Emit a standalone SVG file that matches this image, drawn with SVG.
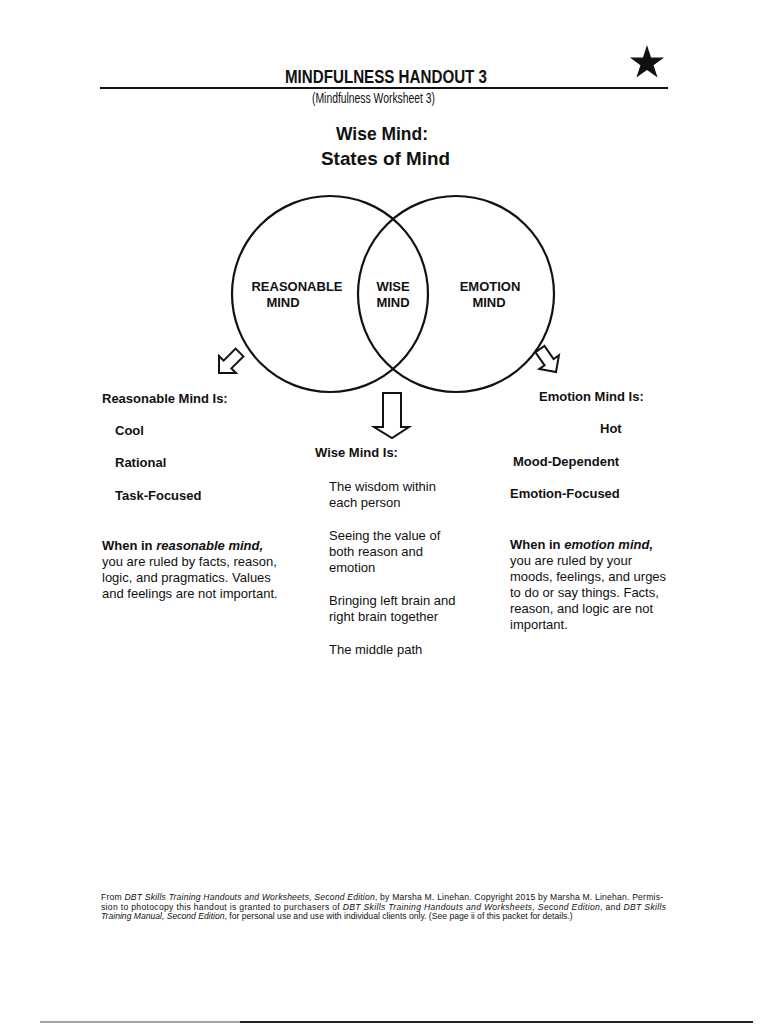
<svg xmlns="http://www.w3.org/2000/svg" width="768" height="1024" viewBox="0 0 768 1024">
<style>
text{font-family:"Liberation Sans",Arial,Helvetica,sans-serif;fill:#111}
.b{font-weight:bold}
.h{font-family:"Liberation Sans Narrow","Liberation Sans",Arial,sans-serif;font-weight:bold}
.t{font-size:19px;font-weight:bold}
.lbl{font-size:13px;font-weight:bold;text-anchor:middle}
.m{font-size:13px}
.f{font-size:8.6px}
.i{font-style:italic}
.circ{fill:none;stroke:#111;stroke-width:2.2}
.arrow{fill:#fff;stroke:#111;stroke-width:2;stroke-linejoin:miter}
</style>
<rect width="768" height="1024" fill="#fff"/>

<g id="header">
<text class="h" x="285" y="83" font-size="18" textLength="202" lengthAdjust="spacingAndGlyphs">MINDFULNESS HANDOUT 3</text>
<line x1="100" y1="88" x2="668" y2="88" stroke="#111" stroke-width="2"/>
<polygon points="647,45 651.06,57.42 664.12,57.44 653.56,65.13 657.58,77.56 647,69.9 636.42,77.56 640.44,65.13 629.88,57.44 642.94,57.42" fill="#111"/>
<text x="312" y="103" font-size="14" style="font-family:'Liberation Sans Narrow','Liberation Sans',Arial,sans-serif" textLength="123" lengthAdjust="spacingAndGlyphs">(Mindfulness Worksheet 3)</text>
<text class="t" x="336" y="140" textLength="92" lengthAdjust="spacingAndGlyphs">Wise Mind:</text>
<text class="t" x="321" y="165" textLength="129" lengthAdjust="spacingAndGlyphs">States of Mind</text>
</g>

<g id="reasonable-mind">
<circle class="circ" cx="330" cy="294" r="98"/>
<text class="lbl" x="297" y="291">REASONABLE</text>
<text class="lbl" x="283" y="307">MIND</text>
</g>

<g id="emotion-mind">
<circle class="circ" cx="456" cy="294" r="98"/>
<text class="lbl" x="490" y="291">EMOTION</text>
<text class="lbl" x="489" y="307">MIND</text>
</g>

<g id="wise-mind">
<text class="lbl" x="393" y="291">WISE</text>
<text class="lbl" x="393" y="307">MIND</text>
</g>

<g id="connectors">
<path class="arrow" transform="translate(219,373) rotate(45)" d="M-5.5,-29 L5.5,-29 L5.5,-12 L12,-12 L0,0 L-12,-12 L-5.5,-12 Z"/>
<path class="arrow" d="M383,393 L401,393 L401,427 L409,427 L392,438 L374,427 L383,427 Z"/>
<path class="arrow" transform="translate(556,372) rotate(-35)" d="M-5.5,-28 L5.5,-28 L5.5,-12 L12,-12 L0,0 L-12,-12 L-5.5,-12 Z"/>
</g>

<g id="reasonable-text">
<text class="m b" x="102" y="403">Reasonable Mind Is:</text>
<text class="m b" x="115" y="435">Cool</text>
<text class="m b" x="115" y="467">Rational</text>
<text class="m b" x="115" y="500">Task-Focused</text>
<text class="m b" x="102" y="550">When in <tspan class="i">reasonable mind,</tspan></text>
<text class="m" x="102" y="566">you are ruled by facts, reason,</text>
<text class="m" x="102" y="582">logic, and pragmatics. Values</text>
<text class="m" x="102" y="598">and feelings are not important.</text>
</g>

<g id="wise-text">
<text class="m b" x="315" y="457">Wise Mind Is:</text>
<text class="m" x="329" y="491">The wisdom within</text>
<text class="m" x="329" y="507">each person</text>
<text class="m" x="329" y="540">Seeing the value of</text>
<text class="m" x="329" y="556">both reason and</text>
<text class="m" x="329" y="572">emotion</text>
<text class="m" x="329" y="605">Bringing left brain and</text>
<text class="m" x="329" y="621">right brain together</text>
<text class="m" x="329" y="654">The middle path</text>
</g>

<g id="emotion-text">
<text class="m b" x="539" y="401">Emotion Mind Is:</text>
<text class="m b" x="600" y="433">Hot</text>
<text class="m b" x="513" y="466">Mood-Dependent</text>
<text class="m b" x="510" y="498">Emotion-Focused</text>
<text class="m b" x="510" y="549">When in <tspan class="i">emotion mind,</tspan></text>
<text class="m" x="510" y="565">you are ruled by your</text>
<text class="m" x="510" y="581">moods, feelings, and urges</text>
<text class="m" x="510" y="597">to do or say things. Facts,</text>
<text class="m" x="510" y="613">reason, and logic are not</text>
<text class="m" x="510" y="629">important.</text>
</g>

<g id="footer">
<text class="f" x="101" y="900" textLength="562" lengthAdjust="spacing">From <tspan class="i">DBT Skills Training Handouts and Worksheets, Second Edition</tspan>, by Marsha M. Linehan. Copyright 2015 by Marsha M. Linehan. Permis-</text>
<text class="f" x="101" y="909.5" textLength="565" lengthAdjust="spacing">sion to photocopy this handout is granted to purchasers of <tspan class="i">DBT Skills Training Handouts and Worksheets, Second Edition</tspan>, and <tspan class="i">DBT Skills</tspan></text>
<text class="f" x="101" y="919"><tspan class="i">Training Manual, Second Edition</tspan>, for personal use and use with individual clients only. (See page ii of this packet for details.)</text>
</g>

<g id="scan-edge">
<line x1="40" y1="1022" x2="240" y2="1022" stroke="#888" stroke-width="1.5"/>
<line x1="240" y1="1022" x2="753" y2="1022" stroke="#222" stroke-width="2"/>
</g>
</svg>
